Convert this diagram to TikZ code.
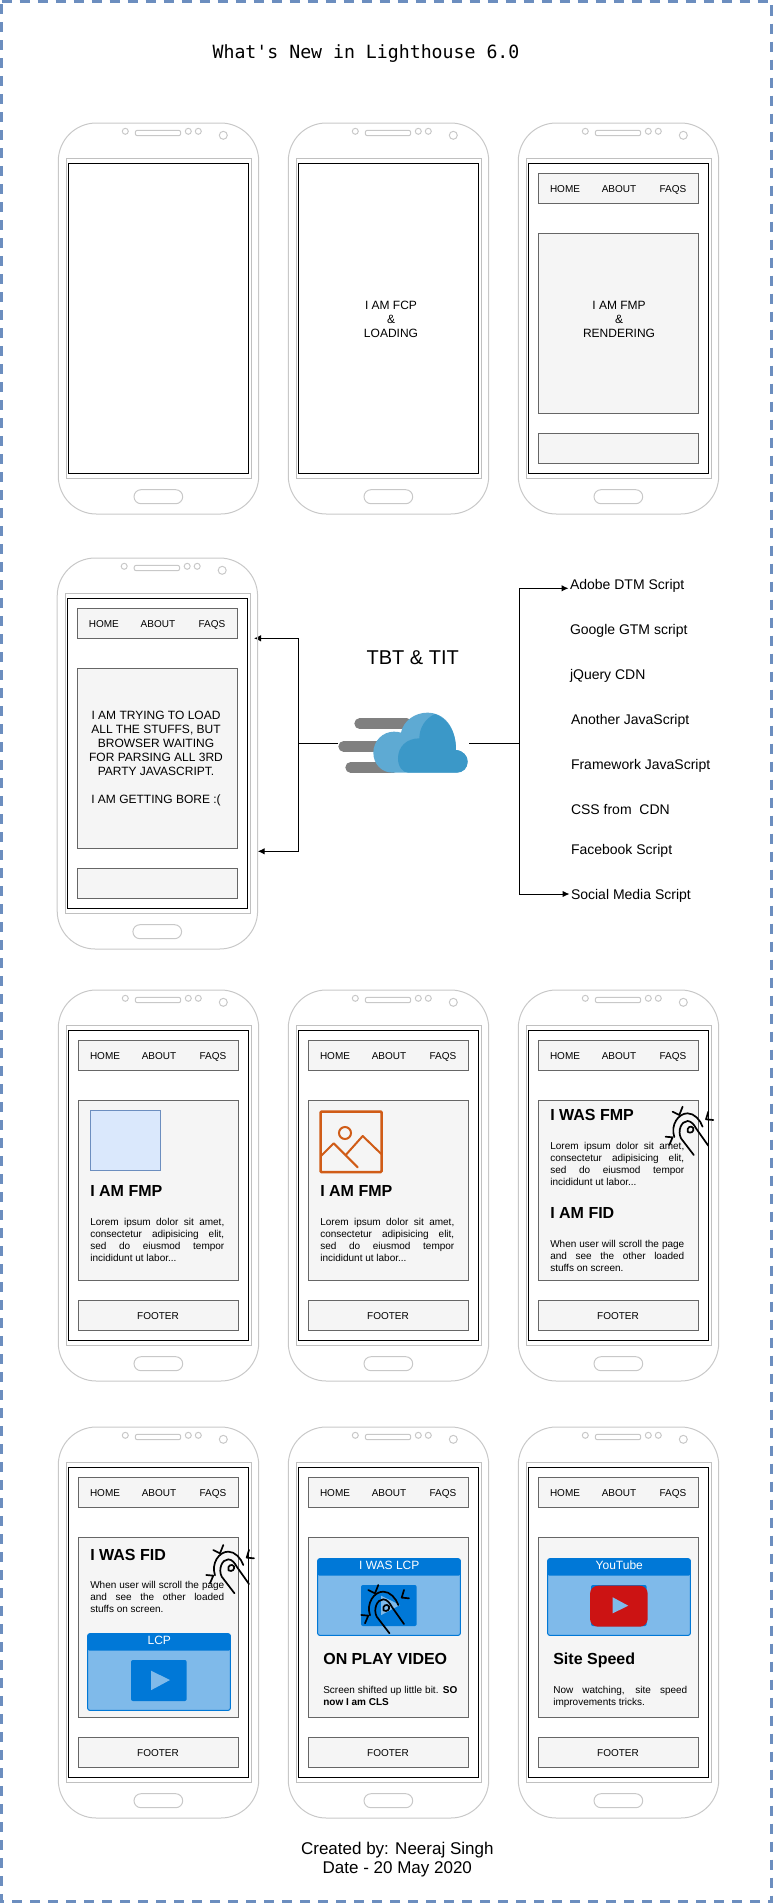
\documentclass[tikz,border=0pt]{standalone}
\usepackage{fontspec}
\setmainfont{Liberation Sans}
\newfontfamily\titlefont{DejaVu Sans Mono}
\usetikzlibrary{backgrounds,arrows.meta}
\definecolor{xframe}{RGB}{108,142,191}
\definecolor{xshell}{RGB}{200,200,200}
\definecolor{xglass}{RGB}{192,192,192}
\definecolor{xbox}{RGB}{245,245,245}
\definecolor{xboxline}{RGB}{102,102,102}
\definecolor{ximage}{RGB}{218,232,252}
\definecolor{xorange}{RGB}{208,92,23}
\definecolor{xazure}{RGB}{0,120,215}
\definecolor{xsky}{RGB}{127,186,234}
\definecolor{xtube}{RGB}{204,19,19}
\definecolor{xgrey}{RGB}{128,128,128}
\definecolor{xcloudl}{RGB}{94,170,211}
\definecolor{xcloudd}{RGB}{59,152,200}
\tikzset{
  boxbase/.style={rectangle, anchor=north west, inner sep=0pt, outer sep=0pt},
  shell/.style={boxbase, draw=xshell, line width=1pt, rounded corners=38pt, minimum width=200.4pt, minimum height=391pt},
  glass/.style={boxbase, draw=xglass, line width=1.2pt, minimum width=185.4pt, minimum height=320.4pt},
  screen/.style={boxbase, draw=black, line width=1.1pt, minimum width=180.4pt, minimum height=310pt},
  slot/.style={boxbase, draw=xshell, line width=1pt, rounded corners=2pt, minimum width=45.4pt, minimum height=5.4pt},
  homekey/.style={boxbase, draw=xshell, line width=1pt, rounded corners=7pt, minimum width=48.7pt, minimum height=14pt},
  lens/.style={circle, draw=xshell, line width=1pt, inner sep=0pt, outer sep=0pt, minimum size=#1},
  pagebox/.style={boxbase, draw=xboxline, fill=xbox, line width=1pt, minimum width=160.4pt, minimum height=#1},
  smalltext/.style={inner sep=0pt, outer sep=0pt, text height=7.2pt, text depth=0pt, font=\fontsize{10}{12}\selectfont},
  midtext/.style={inner sep=0pt, outer sep=0pt, align=center, font=\fontsize{12}{14}\selectfont},
  scripttext/.style={anchor=west, inner sep=1.5pt, outer sep=0pt, text height=10pt, text depth=0pt, font=\fontsize{14}{16}\selectfont},
  headtext/.style={anchor=west, inner sep=0pt, outer sep=0pt, text height=11.5pt, text depth=0pt, font=\fontsize{16}{18}\selectfont\bfseries},
  bodytext/.style={anchor=north west, inner sep=0pt, outer sep=0pt, text width=134pt, align=justify, font=\fontsize{10}{12}\selectfont\sloppy},
  widget/.style={boxbase, draw=xazure, fill=xsky, line width=1pt, rounded corners=2pt, minimum width=142.6pt, minimum height=76.6pt},
  widgettop/.style={boxbase, fill=xazure, rounded corners=2pt, minimum width=142.6pt, minimum height=17pt},
  widgettext/.style={inner sep=0pt, outer sep=0pt, text=white, text height=8.6pt, text depth=0pt, font=\fontsize{12}{14}\selectfont},
  playkey/.style={boxbase, fill=xazure, rounded corners=2pt, minimum width=55.7pt, minimum height=41pt},
  touchline/.style={draw=black, line width=1.7pt, line cap=round, line join=round},
  link/.style={->, >={Latex[length=7pt,width=6.5pt]}, line width=1pt}
}
\newcommand{\phone}[3]{
\begin{scope}[shift={(#2,#3)}]
\node[shell] (#1) at (0,0) {};
\node[glass] (#1glass) at (8,35.3) {};
\node[screen] (#1screen) at (10,40.3) {};
\node[slot] (#1slot) at (77,7.3) {};
\node[lens=6pt] (#1dota) at (67,8.3) {};
\node[lens=6pt] (#1dotb) at (130,8.3) {};
\node[lens=6pt] (#1dotc) at (140,8.3) {};
\node[lens=8pt] (#1cam) at (165,12.3) {};
\node[homekey] (#1key) at (75.7,366.7) {};
\end{scope}
}
\newcommand{\site}[4]{
\begin{scope}[shift={(#2,#3)}]
\node[pagebox=30pt] (#1nav) at (20,50.3) {};
\node[smalltext] (#1home) at (46.7,66.2) {HOME};
\node[smalltext] (#1about) at (100.7,66.2) {ABOUT};
\node[smalltext] (#1faqs) at (154.7,66.2) {FAQS};
\node[pagebox=180pt] (#1main) at (20,110.3) {};
\node[pagebox=30pt] (#1foot) at (20,310.3) {};
\node[smalltext] (#1foottext) at (99.7,326.2) {#4};
\end{scope}
}
\newcommand{\videobox}[4]{
\begin{scope}[shift={(#2,#3)}]
\node[widget] (#1) at (0,0) {};
\node[widgettop] (#1top) at (0,0) {};
\node[widgettext] (#1label) at (71.6,6.6) {#4};
\node[playkey] (#1key) at (43.3,26.3) {};
\fill[xsky] (63.3,37) -- (82.3,46.3) -- (63.3,56.5) -- cycle;
\end{scope}
}
\newcommand{\touchmark}[2]{
\begin{scope}[shift={(#1,#2)}]
\draw[touchline] (-15,7) .. controls (-19,-5) and (-11,-16.7) .. (-1.7,-16.7) .. controls (5,-16.7) and (11,-10) .. (13.3,-3.3);
\draw[touchline] (4.5,25) -- (-8.3,8.3) .. controls (-12,1) and (-8,-9) .. (-1.7,-9) .. controls (2,-9) and (5,-5) .. (6.7,-1.7) -- (19,15.7);
\draw[touchline] (-1.5,2) .. controls (-3,-3) and (2,-5) .. (4,-2) .. controls (5,1) and (2,4) .. (-1.5,2) -- cycle;
\draw[touchline] (-16.7,-18.3) -- (-10,-15) -- (-6.7,-23.3);
\draw[touchline] (24,-10) -- (16.7,-10.7) -- (19,-18.3);
\draw[touchline] (-23.7,6.7) -- (-16.7,7.3) -- (-20,15);
\end{scope}
}
\begin{document}
\begin{tikzpicture}[x=1pt, y=-1pt]
\useasboundingbox (0,0) rectangle (774,1903);
\draw[xframe, line width=3pt, dash pattern=on 10pt off 8pt] (1.5,1.5) -- (771.5,1.5) -- (771.5,1901.5) -- (1.5,1901.5) -- cycle;
\node[font=\titlefont\fontsize{18.2}{22}\selectfont, inner sep=0pt, text height=13.3pt, text depth=0pt] (title) at (366,51.4) {What's New in Lighthouse 6.0};
\phone{fone}{58.3}{123}
\phone{ftwo}{288.3}{123}
\phone{fthree}{518.3}{123}
\site{fthree}{518.3}{123}{}
\node[midtext] (fcp) at (391,319) {I AM FCP\\\&\\LOADING};
\node[midtext] (fmp) at (619,319) {I AM FMP\\\&\\RENDERING};
\phone{wait}{57.2}{558}
\site{wait}{57.2}{558}{}
\node[midtext] (waittext) at (156,758.7) {I AM TRYING TO LOAD\\ALL THE STUFFS, BUT\\BROWSER WAITING\\FOR PARSING ALL 3RD\\PARTY JAVASCRIPT.\\ \\I AM GETTING BORE :(};
\node[inner sep=0pt, outer sep=0pt, font=\fontsize{20}{24}\selectfont] (tbt) at (412.7,657.7) {TBT \& TIT};
\node[inner sep=0pt, outer sep=0pt, minimum width=131pt, minimum height=60pt] (cloud) at (403.5,743.3) {};
\begin{scope}[shift={(320,690)}, x=0.3333pt, y=-0.3333pt]
\draw[xgrey, line width=10.7pt, line cap=round] (119,101) -- (260,101);
\draw[xgrey, line width=10.7pt, line cap=round] (71,169) -- (210,169);
\draw[xgrey, line width=10.7pt, line cap=round] (92,232) -- (220,232);
\fill[xcloudl] (218,248) .. controls (185,248) and (160,222) .. (160,188) .. controls (160,154) and (187,125) .. (222,125) .. controls (230,125) and (238,126) .. (243,128) .. controls (250,92) and (285,68) .. (322,68) .. controls (372,68) and (408,110) .. (408,180) .. controls (430,182) and (443,198) .. (443,215) .. controls (443,235) and (428,248) .. (410,248) -- cycle;
\fill[xcloudd] (345,72) .. controls (380,85) and (408,120) .. (408,180) .. controls (430,182) and (443,198) .. (443,215) .. controls (443,235) and (428,248) .. (410,248) -- (265,248) .. controls (248,248) and (234,230) .. (234,205) .. controls (234,170) and (260,145) .. (298,145) .. controls (298,115) and (315,85) .. (345,72) -- cycle;
\end{scope}
\node[scripttext] (adobe) at (568.5,584.3) {Adobe DTM Script};
\node[scripttext] (google) at (568.5,629) {Google GTM script};
\node[scripttext] (jquery) at (568.5,674) {jQuery CDN};
\node[scripttext] (another) at (569.5,719) {Another JavaScript};
\node[scripttext] (framework) at (569.5,764) {Framework JavaScript};
\node[scripttext] (css) at (569.5,809) {CSS from\ \ CDN};
\node[scripttext] (facebook) at (569.5,849) {Facebook Script};
\node[scripttext] (social) at (569.5,894) {Social Media Script};
\coordinate (forkl) at (298,743.3);
\coordinate (forkr) at (519,743.3);
\coordinate (waitup) at (254,638.3);
\coordinate (waitdown) at (257.7,851.3);
\begin{scope}[on background layer]
\draw[link] (cloud.west) -- (forkl) |- (waitup);
\draw[link] (forkl) |- (waitdown);
\draw[link] (cloud.east) -- (forkr) |- ([yshift=-4pt]adobe.west);
\draw[link] (forkr) |- (social.west);
\end{scope}
\phone{blank}{58.3}{990}
\site{blank}{58.3}{990}{FOOTER}
\node[boxbase, draw=xframe, fill=ximage, line width=1pt, minimum width=70.4pt, minimum height=60.4pt] (blankimg) at (90.3,1110.3) {};
\node[headtext] (blankhead) at (90.3,1191) {I AM FMP};
\node[bodytext] (blanktext) at (90.3,1218.5) {Lorem ipsum dolor sit amet,\linebreak consectetur adipisicing elit,\linebreak sed do eiusmod tempor\linebreak incididunt ut labor...};
\phone{photo}{288.3}{990}
\site{photo}{288.3}{990}{FOOTER}
\node[boxbase, draw=xorange, line width=2.5pt, rounded corners=1pt, minimum width=61pt, minimum height=60.5pt] (photoimg) at (320.5,1111.5) {};
\node[circle, draw=xorange, line width=2pt, inner sep=0pt, minimum size=12pt] (photosun) at (345,1133) {};
\draw[xorange, line width=2pt, line cap=round, line join=round] (321,1156) -- (333.7,1143.3) -- (357.7,1167.3);
\draw[xorange, line width=2pt, line cap=round, line join=round] (345.7,1155) -- (362.7,1136) -- (381.3,1154);
\node[headtext] (photohead) at (320.3,1191) {I AM FMP};
\node[bodytext] (phototext) at (320.3,1218.5) {Lorem ipsum dolor sit amet,\linebreak consectetur adipisicing elit,\linebreak sed do eiusmod tempor\linebreak incididunt ut labor...};
\phone{scroll}{518.3}{990}
\site{scroll}{518.3}{990}{FOOTER}
\node[headtext] (scrollhead) at (550.3,1115) {I WAS FMP};
\node[bodytext] (scrolltext) at (550.3,1142.5) {Lorem ipsum dolor sit amet,\linebreak consectetur adipisicing elit,\linebreak sed do eiusmod tempor\linebreak incididunt ut labor...};
\node[headtext] (scrollfid) at (550.3,1212.3) {I AM FID};
\node[bodytext] (scrollmore) at (550.3,1239.9) {When user will scroll the page\linebreak and see the other loaded\linebreak stuffs on screen.};
\touchmark{689.3}{1130}
\phone{lcp}{58.3}{1427}
\site{lcp}{58.3}{1427}{FOOTER}
\node[headtext] (lcphead) at (90.3,1554.3) {I WAS FID};
\node[bodytext] (lcptext) at (90.3,1581.5) {When user will scroll the page\linebreak and see the other loaded\linebreak stuffs on screen.};
\videobox{lcpvideo}{87.7}{1633.7}{LCP}
\touchmark{230}{1568.3}
\phone{cls}{288.3}{1427}
\site{cls}{288.3}{1427}{FOOTER}
\videobox{clsvideo}{317.7}{1558.7}{I WAS LCP}
\touchmark{385}{1608.3}
\node[headtext] (clshead) at (323.3,1659) {ON PLAY VIDEO};
\node[bodytext] (clstext) at (323.3,1686.5) {Screen shifted up little bit. \textbf{SO}\linebreak \textbf{now I am CLS}};
\phone{tube}{518.3}{1427}
\site{tube}{518.3}{1427}{FOOTER}
\videobox{tubevideo}{547.7}{1558.7}{YouTube}
\node[boxbase, fill=xtube, rounded corners=8pt, minimum width=57.7pt, minimum height=41pt] (tubelogo) at (590,1585.7) {};
\fill[xsky] (612.7,1597.3) -- (628.3,1605.7) -- (612.7,1613.3) -- cycle;
\node[headtext] (tubehead) at (553.3,1659) {Site Speed};
\node[bodytext] (tubetext) at (553.3,1686.5) {Now watching, site speed\linebreak improvements tricks.};
\node[inner sep=0pt, align=center, font=\fontsize{17}{19.5}\selectfont] (credit) at (397.3,1859.5) {Created by: Neeraj Singh\\Date - 20 May 2020};
\end{tikzpicture}
\end{document}
